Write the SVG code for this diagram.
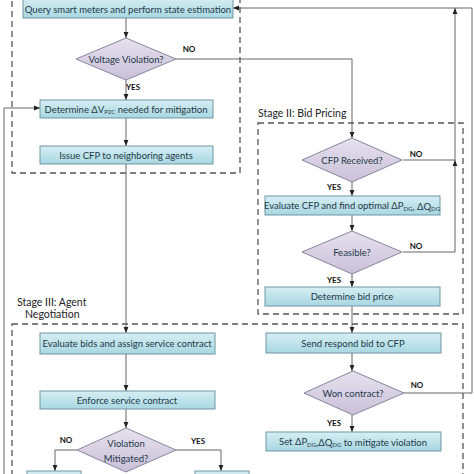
<svg xmlns="http://www.w3.org/2000/svg" width="474" height="474" viewBox="0 0 474 474">
<defs>
<linearGradient id="gBox" x1="0" y1="0" x2="0" y2="1">
<stop offset="0" stop-color="#d6eef3"/>
<stop offset="1" stop-color="#a8d7e1"/>
</linearGradient>
<linearGradient id="gDia" x1="0" y1="0" x2="0" y2="1">
<stop offset="0" stop-color="#e6e1ee"/>
<stop offset="1" stop-color="#c9c0d8"/>
</linearGradient>
<marker id="arr" viewBox="0 0 10 10" refX="10" refY="5" markerWidth="6" markerHeight="6" orient="auto-start-reverse" markerUnits="userSpaceOnUse">
<path d="M0,1 L10,5 L0,9 z" fill="#222"/>
</marker>
</defs>
<style>
.box{fill:url(#gBox);stroke:#6f97a3;stroke-width:1}
.dia{fill:url(#gDia);stroke:#8a84a0;stroke-width:1}
.t{font-family:Lato,"Open Sans","Liberation Sans",sans-serif;font-size:9.5px;fill:#1e3848;text-anchor:middle;dominant-baseline:central}
.lbl{font-family:Lato,"Open Sans","Liberation Sans",sans-serif;font-size:8px;font-weight:bold;fill:#111;text-anchor:middle;dominant-baseline:central}
.stage{font-family:Lato,"Open Sans","Liberation Sans",sans-serif;font-size:10.5px;fill:#222}
.sub{font-size:6px}
.dash{fill:none;stroke:#555;stroke-width:1.3;stroke-dasharray:6,4}
.c{fill:none;stroke:#666;stroke-width:1}
.ca{fill:none;stroke:#666;stroke-width:1;marker-end:url(#arr)}
</style>
<rect width="474" height="474" fill="#fff"/>

<g id="stages">
<rect class="dash" x="12" y="-5" width="228" height="178"/>
<text class="stage" x="258" y="117">Stage II: Bid Pricing</text>
<rect class="dash" x="258" y="123" width="205" height="191"/>
<text class="stage" x="17" y="306">Stage III: Agent</text>
<text class="stage" x="25" y="318">Negotiation</text>
<rect class="dash" x="12" y="324" width="451" height="170"/>
</g>

<g id="connectors">
<path class="ca" d="M126,18 V38"/>
<path class="ca" d="M176,59 H352 V138"/>
<path class="ca" d="M126,80 V100"/>
<path class="ca" d="M126,118 V146"/>
<path class="ca" d="M126,164 V333"/>
<path class="ca" d="M4,474 V108 H40"/>
<path class="ca" d="M352,182 V196"/>
<path class="ca" d="M352,215 V231"/>
<path class="ca" d="M352,274 V287"/>
<path class="ca" d="M352,306 V333"/>
<path class="ca" d="M403,252 H455 V160"/>
<path class="ca" d="M403,160 H455 V8"/>
<path class="ca" d="M404,393 H472 V8 H233"/>
<path class="ca" d="M352,353 V371"/>
<path class="ca" d="M352,415 V432"/>
<path class="ca" d="M126,354 V391"/>
<path class="ca" d="M126,409 V428"/>
<path class="ca" d="M77,450 H55 V471"/>
<path class="ca" d="M176,450 H221 V471"/>
<text class="lbl" x="189" y="49">NO</text>
<text class="lbl" x="133" y="87">YES</text>
<text class="lbl" x="416" y="154">NO</text>
<text class="lbl" x="334" y="187">YES</text>
<text class="lbl" x="416" y="246">NO</text>
<text class="lbl" x="334" y="280">YES</text>
<text class="lbl" x="417" y="385">NO</text>
<text class="lbl" x="334" y="423">YES</text>
<text class="lbl" x="66" y="440">NO</text>
<text class="lbl" x="198" y="441">YES</text>
</g>

<g id="query">
<rect class="box" x="23" y="-2" width="210" height="20"/>
<text class="t" x="128" y="9">Query smart meters and perform state estimation</text>
</g>
<g id="voltage">
<polygon class="dia" points="126,38 176,59 126,80 76,59"/>
<text class="t" x="126" y="59">Voltage Violation?</text>
</g>
<g id="determine-dv">
<rect class="box" x="40" y="100" width="173" height="18"/>
<text class="t" x="126" y="109">Determine ΔV<tspan class="sub" dy="2">P2C</tspan><tspan dy="-2"> needed for mitigation</tspan></text>
</g>
<g id="issue-cfp">
<rect class="box" x="40" y="146" width="173" height="18"/>
<text class="t" x="126" y="155">Issue CFP to neighboring agents</text>
</g>

<g id="cfp-received">
<polygon class="dia" points="352,138 402,160 352,182 302,160"/>
<text class="t" x="352" y="160">CFP Received?</text>
</g>
<g id="evaluate-cfp">
<rect class="box" x="265" y="196" width="175" height="19"/>
<text class="t" x="352" y="205.5">Evaluate CFP and find optimal ΔP<tspan class="sub" dy="2">DG</tspan><tspan dy="-2">, ΔQ</tspan><tspan class="sub" dy="2">DG</tspan></text>
</g>
<g id="feasible">
<polygon class="dia" points="352,231 402,252 352,274 302,252"/>
<text class="t" x="352" y="252">Feasible?</text>
</g>
<g id="bid-price">
<rect class="box" x="265" y="287" width="175" height="19"/>
<text class="t" x="352" y="296.5">Determine bid price</text>
</g>

<g id="send-bid">
<rect class="box" x="266" y="333" width="175" height="20"/>
<text class="t" x="353" y="343">Send respond bid to CFP</text>
</g>
<g id="won-contract">
<polygon class="dia" points="353,371 404,393 353,415 304,393"/>
<text class="t" x="353" y="393">Won contract?</text>
</g>
<g id="set-dp">
<rect class="box" x="266" y="432" width="175" height="19"/>
<text class="t" x="353" y="441.5">Set ΔP<tspan class="sub" dy="2">DG</tspan><tspan dy="-2">,ΔQ</tspan><tspan class="sub" dy="2">DG</tspan><tspan dy="-2"> to mitigate violation</tspan></text>
</g>

<g id="evaluate-bids">
<rect class="box" x="40" y="333" width="175" height="21"/>
<text class="t" x="127" y="343.5">Evaluate bids and assign service contract</text>
</g>
<g id="enforce">
<rect class="box" x="40" y="391" width="175" height="18"/>
<text class="t" x="127" y="400">Enforce service contract</text>
</g>
<g id="violation-mitigated">
<polygon class="dia" points="126,428 176,450 126,472 77,450"/>
<text class="t" x="126" y="443">Violation</text>
<text class="t" x="126" y="458">Mitigated?</text>
</g>
<g id="decrement">
<rect class="box" x="27" y="471" width="54" height="18"/>
<text class="t" x="54" y="478">Decrement</text>
</g>
<g id="increment">
<rect class="box" x="195" y="471" width="54" height="18"/>
<text class="t" x="222" y="478">Increment</text>
</g>
</svg>
